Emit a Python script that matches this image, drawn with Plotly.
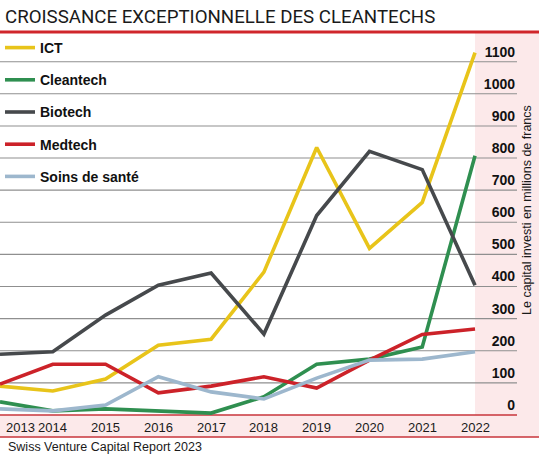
import plotly.graph_objects as go

# valeurs (millions de francs)
years = [2013, 2014, 2015, 2016, 2017, 2018, 2019, 2020, 2021, 2022]
ict = [90, 75, 112, 217, 236, 445, 833, 519, 662, 1128]
cleantech = [41, 13, 19, 13, 6, 57, 158, 174, 212, 807]
biotech = [189, 197, 311, 404, 442, 252, 621, 821, 764, 404]
medtech = [96, 158, 158, 69, 90, 119, 84, 171, 251, 268]
soins = [19, 13, 31, 119, 72, 50, 115, 171, 174, 197]

names = ["ICT", "Cleantech", "Biotech", "Medtech", "Soins de santé"]
colors = ["#e8c41a", "#2f8f50", "#46494c", "#cc2229", "#9db7cd"]
yticks = list(range(0, 1200, 100))

W, H = 539, 461
PINK = "#fce9ea"
RED = "#c9353b"


def px(x):
    return x / W


def py(y):
    return 1 - y / H


fig = go.Figure()
for name, vals, c in zip(names, [ict, cleantech, biotech, medtech, soins], colors):
    fig.add_trace(go.Scatter(
        x=years, y=vals, name=name, mode="lines", legendgroup=name,
        line=dict(color=c, width=3.6), cliponaxis=False,
    ))

shapes = [
    # bande rose à droite et en bas
    dict(type="rect", xref="paper", yref="paper", x0=px(475), x1=1, y0=py(437), y1=py(33),
         fillcolor=PINK, line_width=0, layer="below"),
    dict(type="rect", xref="paper", yref="paper", x0=0, x1=1, y0=py(437), y1=py(415),
         fillcolor=PINK, line_width=0, layer="below"),
    # filet rouge sous le titre
    dict(type="line", xref="paper", yref="paper", x0=0, x1=1, y0=py(32), y1=py(32),
         line=dict(color="#d0262b", width=3)),
    # filet rouge du bas
    dict(type="line", xref="paper", yref="paper", x0=0, x1=1, y0=py(437), y1=py(437),
         line=dict(color=RED, width=1.3)),
]
for v in yticks:
    shapes.append(dict(
        type="line", xref="paper", yref="y", x0=0, x1=px(517), y0=v, y1=v,
        line=dict(color=RED if v == 0 else "#8f8f8f", width=1.3 if v == 0 else 1.1),
        layer="below",
    ))

annotations = [
    dict(text="CROISSANCE EXCEPTIONNELLE DES CLEANTECHS", xref="paper", yref="paper",
         x=px(3), y=py(17), xanchor="left", yanchor="middle", showarrow=False,
         font=dict(family="Roboto", size=18.7, color="#1a1a1a")),
    dict(text="Swiss Venture Capital Report 2023", xref="paper", yref="paper",
         x=px(6), y=py(447), xanchor="left", yanchor="middle", showarrow=False,
         font=dict(family="Liberation Sans", size=12.5, color="#1a1a1a")),
    dict(text="Le capital investi en millions de francs", xref="paper", yref="paper",
         x=px(527), y=py(210), xanchor="center", yanchor="middle", showarrow=False,
         textangle=-90, font=dict(family="Liberation Sans", size=12.5, color="#1a1a1a")),
]
for yr in years:
    annotations.append(dict(
        text=str(yr), xref="x", yref="paper", x=yr, y=py(427),
        xanchor="left" if yr == 2013 else "center", xshift=4 if yr == 2013 else 0,
        yanchor="middle", showarrow=False,
        font=dict(family="Liberation Sans", size=13, color="#1a1a1a"),
    ))

fig.update_layout(
    width=W, height=H, autosize=False,
    margin=dict(l=0, r=0, t=0, b=0),
    paper_bgcolor="white", plot_bgcolor="rgba(0,0,0,0)",
    shapes=shapes, annotations=annotations,
    showlegend=True,
    legend=dict(
        x=0, y=py(32), xanchor="left", yanchor="top",
        font=dict(family="Liberation Sans", size=14, color="#111", weight="bold"),
        tracegroupgap=11, bgcolor="rgba(0,0,0,0)", itemwidth=30,
    ),
    xaxis=dict(range=[2013, 2013 + W / 52.78], showgrid=False, zeroline=False,
               showticklabels=False, ticks=""),
    yaxis=dict(range=[-143.2, 1292.1], side="right", showgrid=False, zeroline=False,
               tickvals=yticks, ticks="", ticklabelposition="inside",
               ticklabelstandoff=21, ticklabelshift=-10,
               tickfont=dict(family="Liberation Sans", size=14, color="#111", weight="bold")),
)

# la page par défaut a une marge de 8px autour du graphique
fig.write_html("out.html", config={"displayModeBar": False},
               post_script="document.body.style.margin='0px';")
